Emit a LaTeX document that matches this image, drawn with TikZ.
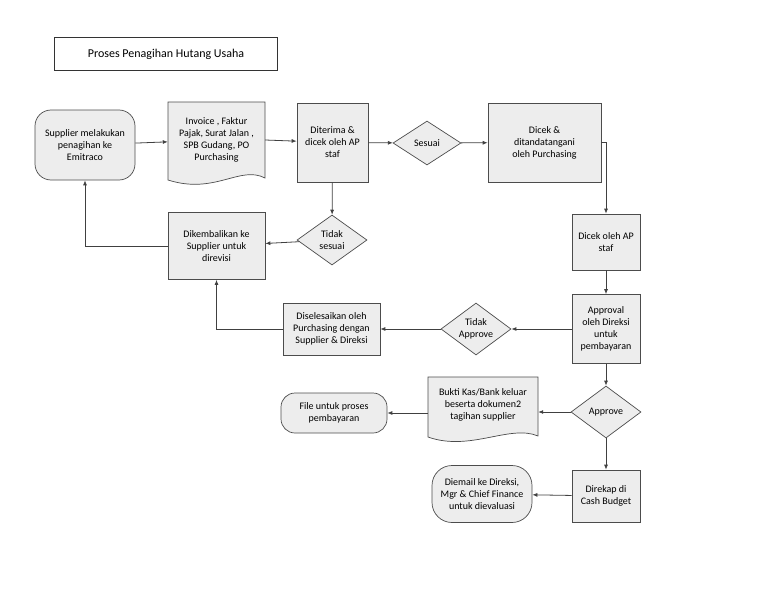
\documentclass[tikz,border=0pt]{standalone}
\usepackage{fontspec}
\setmainfont{Carlito}
\usetikzlibrary{shapes.geometric,arrows.meta}
\begin{document}
\begin{tikzpicture}[x=1pt,y=-1pt,
  base/.style={draw=black!70,fill=black!7,line width=0.7pt,align=center,font=\fontsize{10}{12}\selectfont},
  proc/.style={base,rectangle,minimum width=#1},
  dec/.style={base,diamond,aspect=1.5,inner sep=1pt},
  term/.style={base,rounded rectangle,rounded corners=14pt},
  arr/.style={draw=black!75,line width=0.8pt,-{Latex[length=5pt,width=4pt]}},
  doctext/.style={align=center,font=\fontsize{10}{12}\selectfont}]
\useasboundingbox (0,0) rectangle (768,594);
\node[draw=black!80,line width=0.7pt,minimum width=223pt,minimum height=33pt,font=\fontsize{12}{14}\selectfont] (title) at (166,54) {Proses Penagihan Hutang Usaha};
% supplier terminator
\node[base,rounded corners=16pt,minimum width=100pt,minimum height=70pt] (sup) at (85,145) {Supplier melakukan\\penagihan ke\\Emitraco};
% document invoice
\draw[base] (168,102) -- (265,102) -- (265,178) .. controls (240,165) and (215,195) .. (168,180) -- cycle;
\node[doctext,minimum width=97pt,minimum height=76pt] (inv) at (216.5,140) {Invoice , Faktur\\Pajak, Surat Jalan ,\\SPB Gudang, PO\\Purchasing};
\node[base,minimum width=71pt,minimum height=79pt] (dit) at (332.5,142.5) {Diterima \&\\dicek oleh AP\\staf};
\node[dec,minimum width=68pt,minimum height=44pt] (ses) at (427,143) {Sesuai};
\node[base,minimum width=113pt,minimum height=79pt] (dtt) at (544.5,142.5) {Dicek \&\\ditandatangani\\oleh Purchasing};
\node[base,minimum width=68pt,minimum height=56pt] (ap) at (606,242) {Dicek oleh AP\\staf};
\node[dec,minimum width=70pt,minimum height=50pt] (tds) at (332,240) {Tidak\\sesuai};
\node[base,minimum width=97pt,minimum height=67pt] (kem) at (216.5,246) {Dikembalikan ke\\Supplier untuk\\direvisi};
\node[base,minimum width=68pt,minimum height=69pt] (apv) at (606,329) {Approval\\oleh Direksi\\untuk\\pembayaran};
\node[dec,minimum width=70pt,minimum height=52pt] (tda) at (476,329) {Tidak\\Approve};
\node[base,minimum width=97pt,minimum height=52pt] (sel) at (331.5,329) {Diselesaikan oleh\\Purchasing dengan\\Supplier \& Direksi};
\node[dec,minimum width=70pt,minimum height=52pt] (app) at (606,412) {Approve};
\draw[base] (428,377) -- (538,377) -- (538,436) .. controls (510,424) and (470,452) .. (428,437) -- cycle;
\node[doctext,minimum width=110pt,minimum height=55pt] (buk) at (483,405) {Bukti Kas/Bank keluar\\beserta dokumen2\\tagihan supplier};
\node[base,rounded corners=14pt,minimum width=106pt,minimum height=40pt] (fil) at (334,413) {File untuk proses\\pembayaran};
\node[base,minimum width=68pt,minimum height=52pt] (rek) at (606,496) {Direkap di\\Cash Budget};
\node[base,rounded corners=20pt,minimum width=100pt,minimum height=57pt] (ema) at (482,494) {Diemail ke Direksi,\\Mgr \& Chief Finance\\untuk dievaluasi};
% connectors
\draw[arr] (sup) -- (inv);
\draw[arr] (inv.east) -- (dit);
\draw[arr] (dit) -- (ses);
\draw[arr] (ses) -- (dtt);
\draw[arr] (dtt.east) -| (ap.north);
\draw[arr] (ap) -- (apv);
\draw[arr] (dit) -- (tds);
\draw[arr] (tds) -- (kem);
\draw[arr] (kem.west) -| (sup.south);
\draw[arr] (apv) -- (tda);
\draw[arr] (tda) -- (sel);
\draw[arr] (sel.west) -| (kem.south);
\draw[arr] (apv) -- (app);
\draw[arr] (app) -- (buk.east |- app);
\draw[arr] (buk.west |- fil) -- (fil);
\draw[arr] (app) -- (rek);
\draw[arr] (rek) -- (ema);
\end{tikzpicture}
\end{document}
